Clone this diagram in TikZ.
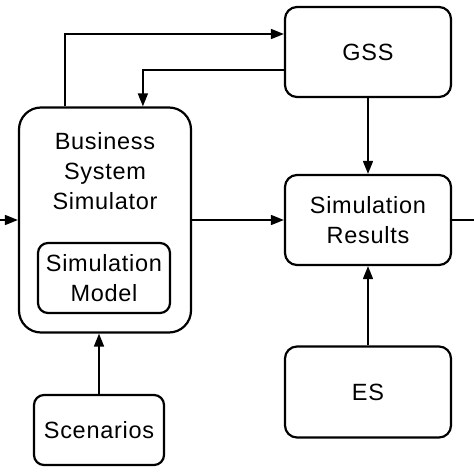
\documentclass[tikz,border=0pt]{standalone}
\usepackage{fontspec}
\setmainfont[LetterSpace=3]{Liberation Sans}
\usetikzlibrary{arrows.meta}
\tikzset{
  blk/.style={draw, line width=2.2pt, rounded corners=12pt, inner sep=0pt, align=center},
  flow/.style={line width=1.6pt, -{Triangle[length=13pt,width=10pt]}}
}
\begin{document}
\begin{tikzpicture}[x=1pt,y=-1pt,font=\fontsize{23.5}{30}\selectfont]
\useasboundingbox (0,0) rectangle (474,474);
\node (gss) at (368,52) [blk, minimum width=166pt, minimum height=90pt] {GSS};
\node (bss) at (105,220) [blk, rounded corners=22pt, minimum width=172pt, minimum height=225pt,
  label={[anchor=north, align=center, inner sep=0pt, yshift=-26pt]north:Business\\System\\Simulator}] {};
\node (model) at (104,278) [blk, rounded corners=10pt, minimum width=132pt, minimum height=70pt] {Simulation\\Model};
\node (scen) at (99,430) [blk, rounded corners=10pt, minimum width=130pt, minimum height=70pt] {Scenarios};
\node (res) at (368,220) [blk, minimum width=166pt, minimum height=90pt] {Simulation\\Results};
\node (es) at (368,392) [blk, minimum width=166pt, minimum height=91pt] {ES};
\coordinate (in) at (-4,220);
\coordinate (out) at (478,220);

\draw[flow] ([xshift=47pt]bss.north west) |- ([yshift=18pt]gss.west);
\draw[flow] ([yshift=-18pt]gss.west) -| ([xshift=125pt]bss.north west);
\draw[flow] (gss) -- (res);
\draw[flow] (bss) -- (res);
\draw[flow] (es) -- (res);
\draw[flow] (scen.north) -- (scen.north |- bss.south);
\draw[flow] (in) -- (bss.west);
\draw[line width=1.6pt] (res.east) -- (out);
\end{tikzpicture}
\end{document}
